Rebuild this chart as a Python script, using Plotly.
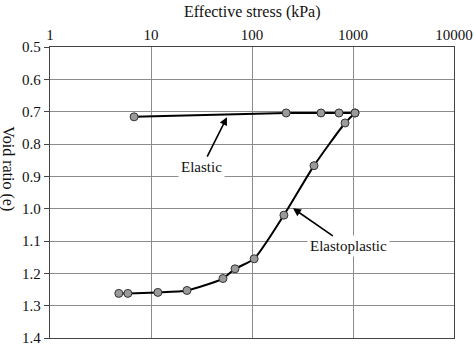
import plotly.graph_objects as go

# Loading (elastoplastic) branch
load_stress = [4.8, 5.9, 11.7, 22.7, 51.6, 67.9, 105, 207, 411, 834, 1047]
load_e = [1.262, 1.262, 1.259, 1.253, 1.216, 1.186, 1.155, 1.020, 0.867, 0.735, 0.704]

# Unloading (elastic) branch
unload_stress = [1047, 727, 482, 218, 6.8]
unload_e = [0.704, 0.704, 0.704, 0.704, 0.716]

x_ticks = [1, 10, 100, 1000, 10000]
x_ticklabels = ["1", "10", "100", "1000", "10000"]
y_ticks = [0.5, 0.6, 0.7, 0.8, 0.9, 1.0, 1.1, 1.2, 1.3, 1.4]
y_ticklabels = ["0.5", "0.6", "0.7", "0.8", "0.9", "1.0", "1.1", "1.2", "1.3", "1.4"]

FONT = "Liberation Serif"
TXT = "#111111"
marker = dict(size=8, color="#9a9a9a", line=dict(color="#333333", width=1))

fig = go.Figure()
fig.add_trace(go.Scatter(x=unload_stress, y=unload_e, mode="lines+markers",
                         line=dict(color="black", width=2), marker=marker,
                         showlegend=False))
fig.add_trace(go.Scatter(x=load_stress, y=load_e, mode="lines+markers",
                         line=dict(color="black", width=2, shape="spline", smoothing=0.6),
                         marker=marker, showlegend=False))

fig.update_layout(
    width=474, height=347,
    margin=dict(l=50, r=20, t=47, b=9, autoexpand=False),
    paper_bgcolor="white", plot_bgcolor="white",
    font=dict(family=FONT, size=15, color=TXT),
    xaxis=dict(type="log", range=[0, 4], side="top", automargin=False,
               tickvals=x_ticks, ticktext=x_ticklabels,
               showgrid=True, gridcolor="#8c8c8c", gridwidth=1.3,
               showline=True, linecolor="#444444", linewidth=1.3, mirror=True,
               ticks="", zeroline=False, ticklabeloverflow="allow",
               tickfont=dict(family=FONT, size=15, color=TXT)),
    yaxis=dict(range=[1.4, 0.5], tickvals=y_ticks, ticktext=y_ticklabels,
               automargin=False,
               showgrid=True, gridcolor="#8c8c8c", gridwidth=1.3,
               showline=True, linecolor="#444444", linewidth=1.3, mirror=True,
               ticks="outside", ticklen=5, tickcolor="#444444", zeroline=False,
               ticklabeloverflow="allow",
               tickfont=dict(family=FONT, size=15, color=TXT)),
)

fig.add_annotation(text="Effective stress (kPa)", xref="paper", yref="paper",
                   x=0.5, y=1.121, xanchor="center", yanchor="middle", showarrow=False,
                   font=dict(family=FONT, size=16, color=TXT))
fig.add_annotation(text="Void ratio (e)", xref="paper", yref="paper",
                   x=-0.104, y=0.58, xanchor="center", yanchor="middle",
                   showarrow=False, textangle=90,
                   font=dict(family=FONT, size=16, color=TXT))

fig.add_annotation(text="Elastic", x=1.752, y=0.717, xref="x", yref="y",
                   ax=-25, ay=50, showarrow=True, arrowhead=2, arrowsize=1,
                   arrowwidth=1.6, arrowcolor="black", bgcolor="white",
                   borderpad=2, font=dict(family=FONT, size=15, color=TXT))
fig.add_annotation(text="Elastoplastic", x=2.406, y=0.999, xref="x", yref="y",
                   ax=55, ay=38, showarrow=True, arrowhead=2, arrowsize=1,
                   arrowwidth=1.6, arrowcolor="black", bgcolor="white",
                   borderpad=2, font=dict(family=FONT, size=15, color=TXT))

fig.write_html("out.html")
